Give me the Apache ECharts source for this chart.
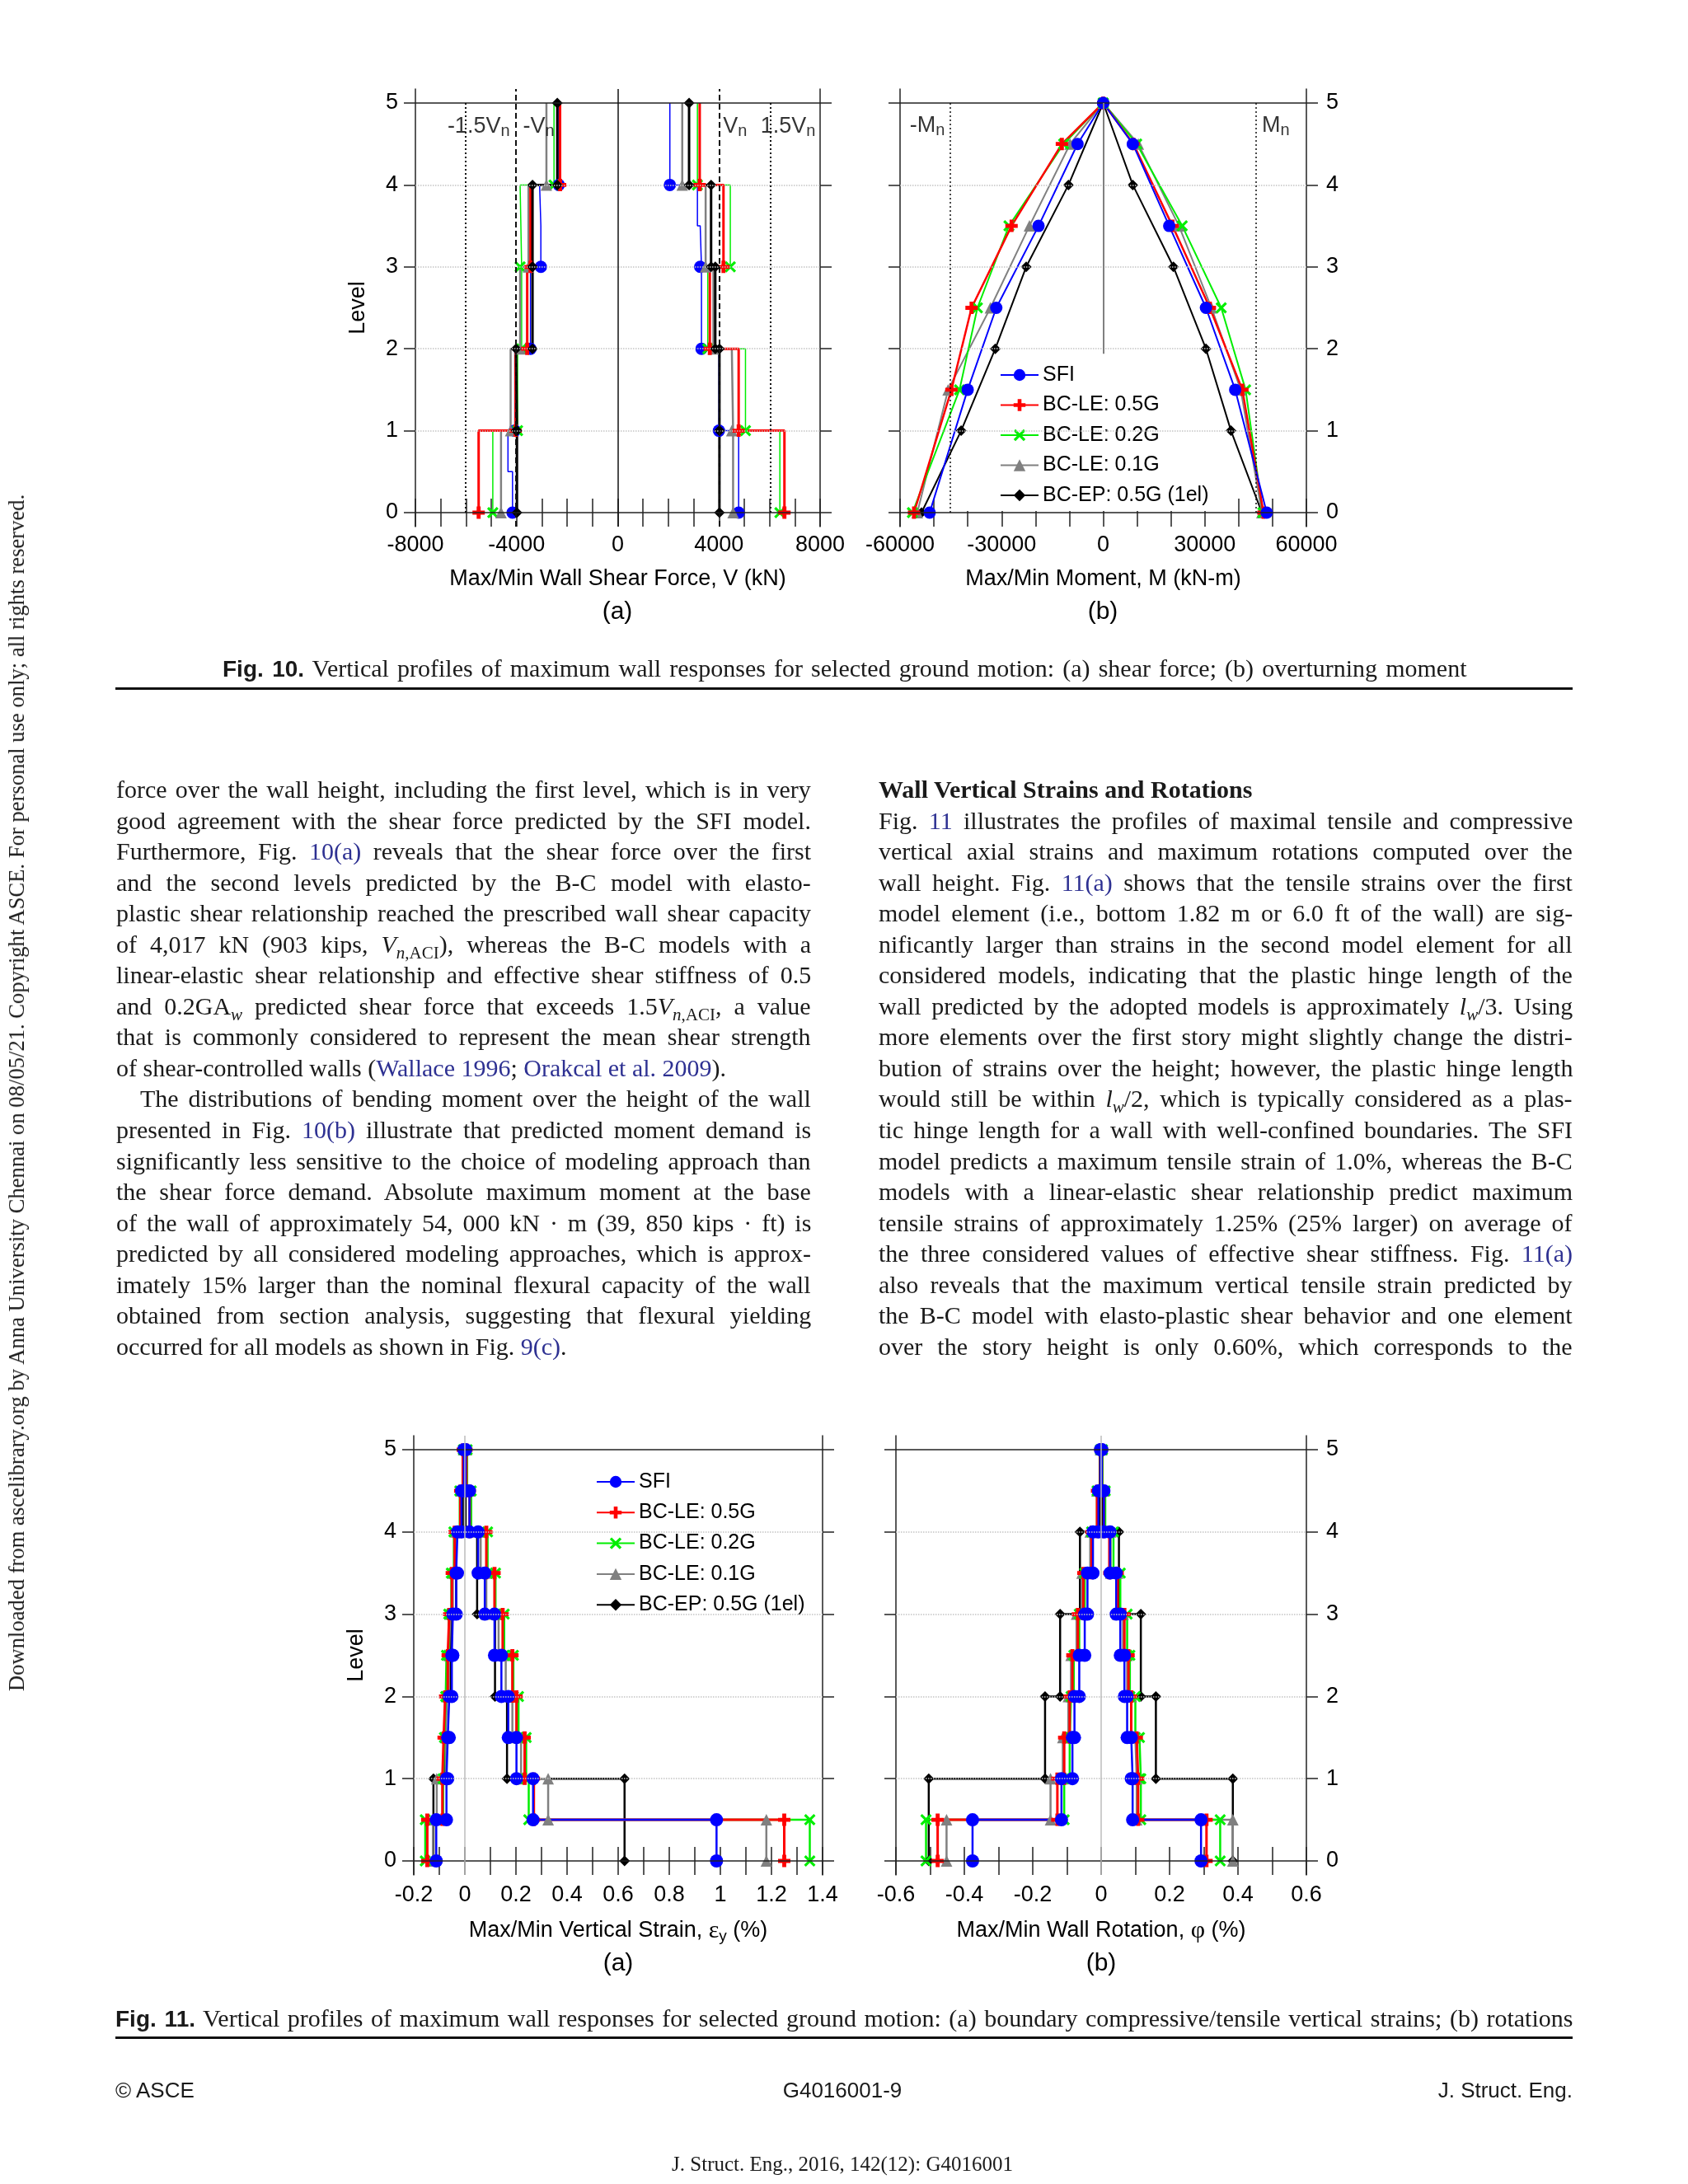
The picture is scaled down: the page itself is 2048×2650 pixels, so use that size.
<!DOCTYPE html>
<html>
<head>
<meta charset="utf-8">
<title>Fig. 10 and Fig. 11</title>
<script src="https://cdn.jsdelivr.net/npm/echarts@6/dist/echarts.min.js"></script>
<style>
  html,body{margin:0;padding:0;background:#fff;}
  #page{position:relative;width:2048px;height:2650px;overflow:hidden;background:#fff;}
  #chart{position:absolute;left:0;top:0;width:2048px;height:2650px;z-index:1;}
  .txt{position:absolute;z-index:2;color:#1a1a1a;font-family:"Liberation Serif","Times New Roman",serif;}
  .col{font-size:30px;}
  .ln{height:37.55px;line-height:37.55px;white-space:nowrap;}
  .ln > span{display:inline-block;}
  .ind{padding-left:29px;}
  a{color:#2e3192;text-decoration:none;}
  .sb{font-size:21px;position:relative;top:7px;line-height:0;}
  .cap{font-size:30px;white-space:nowrap;line-height:37.5px;}
  .cap > span{display:inline-block;}
  .cap b{font-family:"Liberation Sans",Arial,sans-serif;font-weight:bold;font-size:28px;}
  .rule{position:absolute;left:140px;width:1768px;height:3px;background:#111;z-index:2;}
  .foot{position:absolute;z-index:2;font-family:"Liberation Sans",Arial,sans-serif;font-size:26px;color:#1a1a1a;white-space:nowrap;line-height:30px;}
  #side{position:absolute;z-index:2;left:20px;top:1326px;width:0;height:0;}
  #sideText{position:absolute;left:0;top:0;display:inline-block;white-space:nowrap;font-family:"Liberation Serif","Times New Roman",serif;font-size:22px;color:#1a1a1a;line-height:26px;transform:translate(-50%,-50%) rotate(-90deg);}
</style>
</head>
<body>
<div id="page">
<div id="chart"></div>

<div id="side"><span id="sideText">Downloaded from ascelibrary.org by Anna University Chennai on 08/05/21. Copyright ASCE. For personal use only; all rights reserved.</span></div>

<div class="txt cap" id="cap10" style="left:270px;top:792px;width:1510px;"><span><b>Fig. 10.</b> Vertical profiles of maximum wall responses for selected ground motion: (a) shear force; (b) overturning moment</span></div>
<div class="rule" style="top:834px;"></div>

<div class="txt col" style="left:141px;top:939px;width:843px;">
<div class="ln j"><span>force over the wall height, including the first level, which is in very</span></div>
<div class="ln j"><span>good agreement with the shear force predicted by the SFI model.</span></div>
<div class="ln j"><span>Furthermore, Fig. <a>10(a)</a> reveals that the shear force over the first</span></div>
<div class="ln j"><span>and the second levels predicted by the B-C model with elasto-</span></div>
<div class="ln j"><span>plastic shear relationship reached the prescribed wall shear capacity</span></div>
<div class="ln j"><span>of 4,017 kN (903 kips, <i>V</i><span class="sb"><i>n</i>,ACI</span>), whereas the B-C models with a</span></div>
<div class="ln j"><span>linear-elastic shear relationship and effective shear stiffness of 0.5</span></div>
<div class="ln j"><span>and 0.2GA<span class="sb"><i>w</i></span> predicted shear force that exceeds 1.5<i>V</i><span class="sb"><i>n</i>,ACI</span>, a value</span></div>
<div class="ln j"><span>that is commonly considered to represent the mean shear strength</span></div>
<div class="ln"><span>of shear-controlled walls (<a>Wallace 1996</a>; <a>Orakcal et al. 2009</a>).</span></div>
<div class="ln j ind"><span>The distributions of bending moment over the height of the wall</span></div>
<div class="ln j"><span>presented in Fig. <a>10(b)</a> illustrate that predicted moment demand is</span></div>
<div class="ln j"><span>significantly less sensitive to the choice of modeling approach than</span></div>
<div class="ln j"><span>the shear force demand. Absolute maximum moment at the base</span></div>
<div class="ln j"><span>of the wall of approximately 54, 000 kN · m (39, 850 kips · ft) is</span></div>
<div class="ln j"><span>predicted by all considered modeling approaches, which is approx-</span></div>
<div class="ln j"><span>imately 15% larger than the nominal flexural capacity of the wall</span></div>
<div class="ln j"><span>obtained from section analysis, suggesting that flexural yielding</span></div>
<div class="ln"><span>occurred for all models as shown in Fig. <a>9(c)</a>.</span></div>
</div>

<div class="txt col" style="left:1066px;top:939px;width:842px;">
<div class="ln"><span><b>Wall Vertical Strains and Rotations</b></span></div>
<div class="ln j"><span>Fig. <a>11</a> illustrates the profiles of maximal tensile and compressive</span></div>
<div class="ln j"><span>vertical axial strains and maximum rotations computed over the</span></div>
<div class="ln j"><span>wall height. Fig. <a>11(a)</a> shows that the tensile strains over the first</span></div>
<div class="ln j"><span>model element (i.e., bottom 1.82 m or 6.0 ft of the wall) are sig-</span></div>
<div class="ln j"><span>nificantly larger than strains in the second model element for all</span></div>
<div class="ln j"><span>considered models, indicating that the plastic hinge length of the</span></div>
<div class="ln j"><span>wall predicted by the adopted models is approximately <i>l</i><span class="sb"><i>w</i></span>/3. Using</span></div>
<div class="ln j"><span>more elements over the first story might slightly change the distri-</span></div>
<div class="ln j"><span>bution of strains over the height; however, the plastic hinge length</span></div>
<div class="ln j"><span>would still be within <i>l</i><span class="sb"><i>w</i></span>/2, which is typically considered as a plas-</span></div>
<div class="ln j"><span>tic hinge length for a wall with well-confined boundaries. The SFI</span></div>
<div class="ln j"><span>model predicts a maximum tensile strain of 1.0%, whereas the B-C</span></div>
<div class="ln j"><span>models with a linear-elastic shear relationship predict maximum</span></div>
<div class="ln j"><span>tensile strains of approximately 1.25% (25% larger) on average of</span></div>
<div class="ln j"><span>the three considered values of effective shear stiffness. Fig. <a>11(a)</a></span></div>
<div class="ln j"><span>also reveals that the maximum vertical tensile strain predicted by</span></div>
<div class="ln j"><span>the B-C model with elasto-plastic shear behavior and one element</span></div>
<div class="ln j"><span>over the story height is only 0.60%, which corresponds to the</span></div>
</div>

<div class="txt cap" id="cap11" style="left:140px;top:2430px;width:1768px;"><span><b>Fig. 11.</b> Vertical profiles of maximum wall responses for selected ground motion: (a) boundary compressive/tensile vertical strains; (b) rotations</span></div>
<div class="rule" style="top:2471px;"></div>

<div class="foot" style="left:140px;top:2521px;">© ASCE</div>
<div class="foot" style="left:1022px;top:2521px;transform:translateX(-50%);">G4016001-9</div>
<div class="foot" style="right:140px;top:2521px;">J. Struct. Eng.</div>
<div class="txt" style="left:1022px;top:2611px;transform:translateX(-50%);font-size:25px;white-space:nowrap;line-height:30px;">J. Struct. Eng., 2016, 142(12): G4016001</div>
</div>

<script>
// ===================== DATA =====================
const seriesKeys = ['sfi', 'le05', 'le02', 'le01', 'ep'];
const seriesNames = ['SFI', 'BC-LE: 0.5G', 'BC-LE: 0.2G', 'BC-LE: 0.1G', 'BC-EP: 0.5G (1el)'];
const levelTicks = [0, 1, 2, 3, 4, 5];

// Fig. 10(a): max/min wall shear force (kN), constant over each element (bounds = element end levels)
const storyBounds = [0, 1, 2, 3, 4, 5];
const sfiShearBounds = [0, 0.5, 1, 2, 3, 3.5, 4, 5];
const shearMax_sfi = [4780, 4780, 4000, 3310, 3260, 3150, 2060];
const shearMin_sfi = [-4160, -4340, -4070, -3450, -3040, -3090, -2330];
const shearMax_le05 = [6590, 4780, 3640, 4180, 3240];
const shearMin_le05 = [-5500, -4040, -3580, -3450, -2280];
const shearMax_le02 = [6410, 5050, 3560, 4450, 3150];
const shearMin_le02 = [-4940, -3960, -3800, -3860, -2520];
const shearMax_le01 = [4560, 4510, 3780, 3475, 2550];
const shearMin_le01 = [-4615, -4235, -3860, -3530, -2820];
const shearMax_ep = [4020, 4020, 3855, 3690, 2820];
const shearMin_ep = [-3985, -4020, -3370, -3370, -2390];
const shearCapacity = [-6025.5, -4017, 4017, 6025.5];      // -1.5Vn, -Vn, Vn, 1.5Vn
const shearCapLabels = ['-1.5V{s|n}', '-V{s|n}', 'V{s|n}', '1.5V{s|n}'];
const shearCapLabelX = [-6733, -3747, 4159, 5647];
const shearCapLabelLevel = 4.71;

// Fig. 10(b): max/min moment (kN-m)
const momentLevels = [0, 1.5, 2.5, 3.5, 4.5, 5];
const momentLevelsEP = [0, 1, 2, 3, 4, 5];
const momentMax_sfi = [48290, 38980, 30340, 19490, 8740, 0];
const momentMin_sfi = [-51260, -40030, -31580, -19100, -7580, 0];
const momentMax_le05 = [47330, 41090, 31490, 20450, 8930, 0];
const momentMin_le05 = [-55870, -44830, -38880, -27070, -12200, 0];
const momentMax_le02 = [47140, 42050, 34850, 23330, 9890, 0];
const momentMin_le02 = [-56350, -42430, -37150, -27840, -11700, 0];
const momentMax_le01 = [46850, 40610, 31970, 22370, 10370, 0];
const momentMin_le01 = [-54910, -45800, -33310, -21790, -9790, 0];
const momentMax_ep = [46850, 37730, 30340, 20740, 8740, 0];
const momentMin_ep = [-53660, -41950, -31870, -22750, -10270, 0];
const momentCapacity = [-45200, 45200];                    // -Mn, Mn
const momentCapLabels = ['-M{s|n}', 'M{s|n}'];
const momentCapLabelX = [-57120, 46850];
const momentCapLabelLevel = 4.72;

// Fig. 11(a): max/min vertical strain (%)
const halfBounds = [0, 0.5, 1, 1.5, 2, 2.5, 3, 3.5, 4, 4.5, 5];
const strainMax_sfi = [0.985, 0.267, 0.202, 0.170, 0.143, 0.116, 0.078, 0.052, 0.018, 0.003];
const strainMin_sfi = [-0.112, -0.072, -0.067, -0.061, -0.051, -0.047, -0.034, -0.029, -0.013, -0.004];
const strainMax_le05 = [1.25, 0.27, 0.234, 0.202, 0.186, 0.148, 0.116, 0.084, 0.019, 0.006];
const strainMin_le05 = [-0.147, -0.088, -0.083, -0.077, -0.067, -0.061, -0.051, -0.040, -0.018, -0.008];
const strainMax_le02 = [1.35, 0.25, 0.24, 0.21, 0.19, 0.154, 0.12, 0.089, 0.025, 0.009];
const strainMin_le02 = [-0.155, -0.085, -0.080, -0.075, -0.072, -0.063, -0.053, -0.043, -0.020, -0.006];
const strainMax_le01 = [1.18, 0.326, 0.22, 0.186, 0.16, 0.132, 0.084, 0.062, 0.019, 0.006];
const strainMin_le01 = [-0.125, -0.11, -0.075, -0.07, -0.062, -0.057, -0.047, -0.035, -0.015, -0.005];
const strainMax_ep = [0.625, 0.165, 0.118, 0.048, 0.003];
const strainMin_ep = [-0.123, -0.077, -0.056, -0.034, -0.008];

// Fig. 11(b): max/min wall rotation (%)
const rotMax_sfi = [0.292, 0.092, 0.088, 0.076, 0.068, 0.056, 0.044, 0.026, 0.008, 0.002];
const rotMin_sfi = [-0.376, -0.116, -0.084, -0.078, -0.064, -0.048, -0.040, -0.024, -0.008, -0.002];
const rotMax_le05 = [0.308, 0.108, 0.104, 0.088, 0.080, 0.068, 0.048, 0.024, 0.008, 0.002];
const rotMin_le05 = [-0.478, -0.128, -0.108, -0.092, -0.084, -0.068, -0.052, -0.028, -0.012, -0.002];
const rotMax_le02 = [0.348, 0.116, 0.112, 0.100, 0.084, 0.076, 0.056, 0.036, 0.012, 0.004];
const rotMin_le02 = [-0.512, -0.108, -0.092, -0.088, -0.080, -0.064, -0.048, -0.028, -0.012, -0.002];
const rotMax_le01 = [0.385, 0.104, 0.100, 0.088, 0.076, 0.064, 0.048, 0.028, 0.008, 0.002];
const rotMin_le01 = [-0.452, -0.148, -0.112, -0.096, -0.088, -0.072, -0.056, -0.032, -0.012, -0.002];
const rotMax_ep = [0.385, 0.160, 0.116, 0.052, 0.003];
const rotMin_ep = [-0.504, -0.164, -0.120, -0.062, -0.004];

// ===================== STYLE =====================
const FONT = '"Liberation Sans", Arial, sans-serif';
const AX = '#222';
const COL = {sfi:'#0000ff', le05:'#ff0000', le02:'#00ee00', le01:'#808080', ep:'#000000'};
const NAME = {}; seriesKeys.forEach((k, i) => NAME[k] = seriesNames[i]);
const PLUS = 'path://M3.4,0H6.6V3.4H10V6.6H6.6V10H3.4V6.6H0V3.4H3.4Z';
const CROSS = 'path://M1.6,0L5,3.4L8.4,0L10,1.6L6.6,5L10,8.4L8.4,10L5,6.6L1.6,10L0,8.4L3.4,5L0,1.6Z';
const SYM = {sfi:'circle', le05:PLUS, le02:CROSS, le01:'triangle', ep:'diamond'};
const SIZE10 = {sfi:15, le05:15, le02:14, le01:14, ep:13};
const SIZE11 = {sfi:16, le05:15, le02:14, le01:14, ep:13};
const W10a = {sfi:1.5, le05:3, le02:1.5, le01:2.5, ep:3};
const W10b = {sfi:2, le05:2.5, le02:2, le01:2, ep:2};
const W11 = {sfi:2.5, le05:3, le02:2.5, le01:2.5, ep:2.5};
const EXT10 = 17 / 99.4, EXT11 = 17 / 99.8;

const GRIDS = [
  {left:504, top:108, width:491, height:531},
  {left:1092, top:108, width:493, height:531},
  {left:502, top:1742, width:496, height:533},
  {left:1087, top:1742, width:498, height:533}
];

function fmtTick(v){ const r = Math.round(v * 1000) / 1000; return String(r === 0 ? 0 : r); }

function xPair(gi, min, max, interval, minor, name, nameGap, rich, margin){
  const common = {
    type:'value', gridIndex:gi, min:min, max:max, interval:interval,
    axisLine:{show:false},
    axisTick:{show:true, inside:true, length:17, lineStyle:{color:AX, width:1.5}},
    minorTick:{show:true, splitNumber:minor, length:17, lineStyle:{color:AX, width:1.5}},
    splitLine:{show:false}, minorSplitLine:{show:false}
  };
  return [
    Object.assign({}, common, {position:'bottom',
      axisLabel:{show:true, margin:margin, fontSize:27, color:'#000', fontFamily:FONT, formatter:fmtTick},
      name:name, nameLocation:'middle', nameGap:nameGap, nameMoveOverlap:false,
      nameTextStyle:{fontSize:27, color:'#000', fontFamily:FONT, lineHeight:32, rich:rich || {}}}),
    Object.assign({}, common, {position:'top', axisLabel:{show:false}})
  ];
}
function yPair(gi, ext, labelSide){
  const common = {
    type:'value', gridIndex:gi, min:-ext, max:5 + ext,
    axisLine:{show:true, onZero:false, lineStyle:{color:AX, width:1.5}},
    axisTick:{show:true, inside:false, length:14, customValues:levelTicks, lineStyle:{color:AX, width:1.5}},
    splitLine:{show:false}
  };
  const lab = (show, margin) => ({show:show, customValues:levelTicks, margin:margin, fontSize:27, color:'#000', fontFamily:FONT});
  const left = Object.assign({}, common, {position:'left', axisLabel:lab(labelSide === 'left', 21)});
  if (labelSide === 'left') {
    Object.assign(left, {name:'Level', nameLocation:'middle', nameGap:56, nameMoveOverlap:false,
      nameTextStyle:{fontSize:27, color:'#000', fontFamily:FONT}});
  }
  const right = Object.assign({}, common, {position:'right', axisLabel:lab(labelSide === 'right', 24)});
  return [left, right];
}

function stepPts(bounds, vals){
  const pts = [];
  for (let i = 0; i < vals.length; i++) { pts.push([vals[i], bounds[i]]); pts.push([vals[i], bounds[i + 1]]); }
  return pts;
}
function lineSeries(gi, key, data, width, size){
  return {
    type:'line', name:NAME[key], xAxisIndex:gi * 2, yAxisIndex:gi * 2, data:data,
    symbol:SYM[key], symbolKeepAspect:true, showAllSymbol:true,
    symbolSize: size,
    lineStyle:{color:COL[key], width:width[key]}, itemStyle:{color:COL[key]},
    z:3, silent:true, animation:false, clip:false, emphasis:{disabled:true}
  };
}
function guide(gi, items){
  return {type:'line', xAxisIndex:gi * 2, yAxisIndex:gi * 2, data:[], z:1, silent:true, animation:false,
    markLine:{silent:true, symbol:'none', animation:false, label:{show:false}, data:items}};
}
function levelLines(){
  const out = [];
  levelTicks.forEach(l => {
    const edge = (l === 0 || l === 5);
    out.push({yAxis:l, lineStyle:{color: edge ? AX : '#c4c4c4', type: edge ? 'solid' : 'dotted', width:1.5}});
  });
  return out;
}
function labelSeries(gi, xs, level, texts){
  return {type:'scatter', xAxisIndex:gi * 2, yAxisIndex:gi * 2, z:4, silent:true, animation:false, symbolSize:0,
    data: xs.map((x, i) => ({value:[x, level], label:{formatter:texts[i]}})),
    label:{show:true, position:'right', distance:0, fontSize:27, color:'#000', fontFamily:FONT, lineHeight:32,
      rich:{s:{fontSize:20, lineHeight:15, verticalAlign:'bottom', fontFamily:FONT, color:'#000'}}}};
}

const D10a = {
  sfi:{b:sfiShearBounds, max:shearMax_sfi, min:shearMin_sfi},
  le05:{b:storyBounds, max:shearMax_le05, min:shearMin_le05},
  le02:{b:storyBounds, max:shearMax_le02, min:shearMin_le02},
  le01:{b:storyBounds, max:shearMax_le01, min:shearMin_le01},
  ep:{b:storyBounds, max:shearMax_ep, min:shearMin_ep}
};
const D10b = {
  sfi:{l:momentLevels, max:momentMax_sfi, min:momentMin_sfi},
  le05:{l:momentLevels, max:momentMax_le05, min:momentMin_le05},
  le02:{l:momentLevels, max:momentMax_le02, min:momentMin_le02},
  le01:{l:momentLevels, max:momentMax_le01, min:momentMin_le01},
  ep:{l:momentLevelsEP, max:momentMax_ep, min:momentMin_ep}
};
const D11a = {
  sfi:{b:halfBounds, max:strainMax_sfi, min:strainMin_sfi},
  le05:{b:halfBounds, max:strainMax_le05, min:strainMin_le05},
  le02:{b:halfBounds, max:strainMax_le02, min:strainMin_le02},
  le01:{b:halfBounds, max:strainMax_le01, min:strainMin_le01},
  ep:{b:storyBounds, max:strainMax_ep, min:strainMin_ep}
};
const D11b = {
  sfi:{b:halfBounds, max:rotMax_sfi, min:rotMin_sfi},
  le05:{b:halfBounds, max:rotMax_le05, min:rotMin_le05},
  le02:{b:halfBounds, max:rotMax_le02, min:rotMin_le02},
  le01:{b:halfBounds, max:rotMax_le01, min:rotMin_le01},
  ep:{b:storyBounds, max:rotMax_ep, min:rotMin_ep}
};

const series = [];
const topFirst = ['ep', 'le01', 'le02', 'le05', 'sfi'];
// 11(a)
topFirst.forEach(k => { const d = D11a[k];
  series.push(lineSeries(2, k, stepPts(d.b, d.max), W11, SIZE11[k]));
  series.push(lineSeries(2, k, stepPts(d.b, d.min), W11, SIZE11[k])); });
// 10(b)
topFirst.forEach(k => { const d = D10b[k];
  series.push(lineSeries(1, k, d.max.map((v, i) => [v, d.l[i]]), W10b, SIZE10[k]));
  series.push(lineSeries(1, k, d.min.map((v, i) => [v, d.l[i]]), W10b, SIZE10[k])); });
// 11(b)
topFirst.forEach(k => { const d = D11b[k];
  series.push(lineSeries(3, k, stepPts(d.b, d.max), W11, SIZE11[k]));
  series.push(lineSeries(3, k, stepPts(d.b, d.min), W11, SIZE11[k])); });
// 10(a)
['sfi', 'le02', 'le01', 'le05', 'ep'].forEach(k => { const d = D10a[k];
  const fn = k === 'ep' ? SIZE10[k] : function(val, p){ return (p.dataIndex % 2 === 0 && Number.isInteger(val[1])) ? SIZE10[k] : 0; };
  series.push(lineSeries(0, k, stepPts(d.b, d.max), W10a, fn));
  series.push(lineSeries(0, k, stepPts(d.b, d.min), W10a, fn)); });

// guides
series.push(guide(0, levelLines().concat([
  {xAxis:0, lineStyle:{color:'#111', type:'solid', width:1.5}},
  {xAxis:shearCapacity[1], lineStyle:{color:'#111', type:[7, 4], width:2}},
  {xAxis:shearCapacity[2], lineStyle:{color:'#111', type:[7, 4], width:2}},
  [{coord:[shearCapacity[0], 0]}, {coord:[shearCapacity[0], 5], lineStyle:{color:'#111', type:[2, 3], width:2}}],
  [{coord:[shearCapacity[3], 0]}, {coord:[shearCapacity[3], 5], lineStyle:{color:'#111', type:[2, 3], width:2}}]
])));
series.push(guide(1, levelLines().concat([
  [{coord:[0, 1.94]}, {coord:[0, 5], lineStyle:{color:'#808080', type:'solid', width:2}}],
  [{coord:[momentCapacity[0], 0]}, {coord:[momentCapacity[0], 5], lineStyle:{color:'#111', type:[2, 3], width:1.5}}],
  [{coord:[momentCapacity[1], 0]}, {coord:[momentCapacity[1], 5], lineStyle:{color:'#111', type:[2, 3], width:1.5}}]
])));
series.push(guide(2, levelLines().concat([{xAxis:0, lineStyle:{color:'#bdbdbd', type:'solid', width:1.5}}])));
series.push(guide(3, levelLines().concat([{xAxis:0, lineStyle:{color:'#bdbdbd', type:'solid', width:1.5}}])));
series.push(labelSeries(0, shearCapLabelX, shearCapLabelLevel, shearCapLabels));
series.push(labelSeries(1, momentCapLabelX, momentCapLabelLevel, momentCapLabels));

const legendBase = {
  data:seriesNames, orient:'vertical', itemWidth:46, itemHeight:18, itemGap:10.5,
  backgroundColor:'#fff', z:2, selectedMode:false, borderWidth:0,
  textStyle:{fontSize:25, color:'#000', fontFamily:FONT, lineHeight:26}
};

const option = {
  animation:false,
  textStyle:{fontFamily:FONT},
  grid: GRIDS.map(g => Object.assign({containLabel:false, outerBoundsMode:'none'}, g)),
  xAxis: [].concat(
    xPair(0, -8000, 8000, 4000, 4, 'Max/Min Wall Shear Force, V (kN)', 48, null, 9),
    xPair(1, -60000, 60000, 30000, 3, 'Max/Min Moment, M (kN-m)', 48, null, 9),
    xPair(2, -0.2, 1.4, 0.2, 2, 'Max/Min Vertical Strain, {g|ε}{s|y} (%)', 52,
      {g:{fontSize:30, fontFamily:'"Liberation Serif", serif', color:'#000', lineHeight:32},
       s:{fontSize:19, lineHeight:18, verticalAlign:'bottom', color:'#000', fontFamily:FONT}}, 11),
    xPair(3, -0.6, 0.6, 0.2, 2, 'Max/Min Wall Rotation, {g|φ} (%)', 52,
      {g:{fontSize:30, fontFamily:'"Liberation Serif", serif', color:'#000', lineHeight:32}}, 11)
  ),
  yAxis: [].concat(yPair(0, EXT10, 'left'), yPair(1, EXT10, 'right'), yPair(2, EXT11, 'left'), yPair(3, EXT11, 'right')),
  legend: [
    Object.assign({}, legendBase, {left:1141, top:431, padding:[11, 12, 6, 72]}),
    Object.assign({}, legendBase, {left:714, top:1773, itemGap:11.3, padding:[12, 14, 8, 9]})
  ],
  graphic: [
    {type:'text', x:749, y:743, z:10, style:{text:'(a)', align:'center', verticalAlign:'middle', fontSize:30, fontFamily:FONT, fill:'#000'}},
    {type:'text', x:1338, y:743, z:10, style:{text:'(b)', align:'center', verticalAlign:'middle', fontSize:30, fontFamily:FONT, fill:'#000'}},
    {type:'text', x:750, y:2383, z:10, style:{text:'(a)', align:'center', verticalAlign:'middle', fontSize:30, fontFamily:FONT, fill:'#000'}},
    {type:'text', x:1336, y:2383, z:10, style:{text:'(b)', align:'center', verticalAlign:'middle', fontSize:30, fontFamily:FONT, fill:'#000'}}
  ],
  series: series
};

const chart = echarts.init(document.getElementById('chart'), null, {renderer:'canvas', width:2048, height:2650});
chart.setOption(option);

// ===================== TEXT FITTING =====================
function fitJustify(el){
  const sp = el.firstElementChild;
  const cs = getComputedStyle(el);
  const target = el.clientWidth - parseFloat(cs.paddingLeft) - parseFloat(cs.paddingRight);
  sp.style.wordSpacing = '0px';
  const w = sp.offsetWidth;
  const n = (sp.textContent.match(/ /g) || []).length;
  if (n > 0) sp.style.wordSpacing = ((target - w) / n) + 'px';
}
function fitAll(){
  document.querySelectorAll('.ln.j').forEach(fitJustify);
  document.querySelectorAll('.cap').forEach(fitJustify);
  const side = document.getElementById('sideText');
  side.style.fontSize = '22px';
  const w = side.offsetWidth;
  if (w > 0) side.style.fontSize = (22 * 1453 / w) + 'px';
}
fitAll();
if (document.fonts && document.fonts.ready) document.fonts.ready.then(fitAll);
</script>
</body>
</html>
